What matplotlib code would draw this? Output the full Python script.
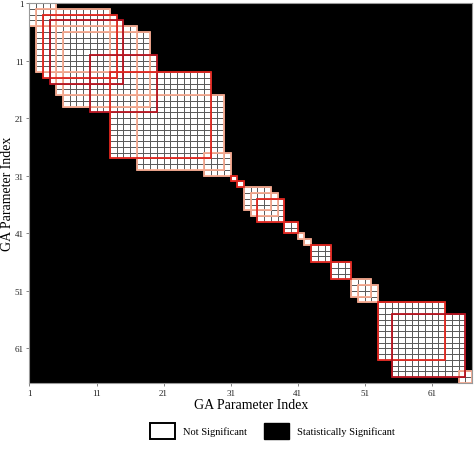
import matplotlib.pyplot as plt
import numpy as np
from matplotlib.patches import Patch, Rectangle
from matplotlib.collections import PatchCollection

n_params = 66
tick_labels = [1, 11, 21, 31, 41, 51, 61]

# non-significant blocks (0-based start, exclusive end) and outline tone
cluster_start = [0, 1, 2, 3, 4, 5, 9, 12, 16, 26, 30, 31, 32, 33, 34,
                 38, 40, 41, 42, 45, 48, 49, 52, 54, 64]
cluster_end = [4, 12, 13, 14, 16, 18, 19, 27, 29, 30, 31, 32, 36, 37, 38,
               40, 41, 42, 45, 48, 51, 52, 62, 65, 66]
cluster_tone = [3, 3, 2, 1, 3, 3, 1, 2, 3, 3, 2, 2, 3, 3, 2,
                2, 3, 3, 2, 2, 3, 3, 2, 1, 3]

tone_colors = {1: '#b8121f', 2: '#e3261f', 3: '#f7a98f'}

plt.rcParams['font.family'] = ['Liberation Serif', 'DejaVu Serif']

# significance matrix: 1 = not significant
M = np.zeros((n_params, n_params))
for s, e in zip(cluster_start, cluster_end):
    M[s:e, s:e] = 1

fig = plt.figure(figsize=(4.74, 4.60), dpi=100)
ax = fig.add_axes([0.0622, 0.1652, 0.9336, 0.8261])
ax.set_facecolor('black')

rows, cols = np.nonzero(M)
cells = [Rectangle((c, r), 1, 1) for r, c in zip(rows, cols)]
ax.add_collection(PatchCollection(cells, facecolor='white',
                                  edgecolor='#4d4d4d', linewidth=0.6))

for s, e, t in zip(cluster_start, cluster_end, cluster_tone):
    ax.add_patch(Rectangle((s, s), e - s, e - s, fill=False,
                           edgecolor=tone_colors[t], linewidth=1.3,
                           zorder=3 if t < 3 else 2))

ax.set_xlim(0, n_params)
ax.set_ylim(n_params, 0)
ticks = [t - 1 for t in tick_labels]
ax.set_xticks(ticks)
ax.set_xticklabels(tick_labels)
ax.set_yticks(ticks)
ax.set_yticklabels(tick_labels)
ax.tick_params(labelsize=6.5, length=2, width=0.5, color='#555555',
               pad=2, labelcolor='#222222')
for sp in ax.spines.values():
    sp.set_color('#999999')
    sp.set_linewidth(0.8)

ax.set_xlabel('GA Parameter Index', fontsize=10, labelpad=1)
ax.set_ylabel('GA Parameter Index', fontsize=10, labelpad=1)

handles = [Patch(facecolor='white', edgecolor='black', linewidth=1.4,
                 label='Not Significant'),
           Patch(facecolor='black', edgecolor='black',
                 label='Statistically Significant')]
fig.legend(handles=handles, loc='center', bbox_to_anchor=(0.575, 0.061),
           ncol=2, frameon=False, fontsize=7.5, handlelength=2.4,
           handleheight=2.0, columnspacing=1.6, handletextpad=0.8)

fig.savefig('out.png', dpi=100)
